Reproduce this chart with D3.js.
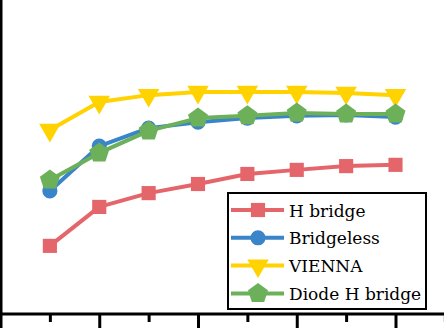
<!DOCTYPE html>
<html>
<head>
<meta charset="utf-8">
<script src="https://cdn.jsdelivr.net/npm/d3@7"></script>
<style>
  html, body { margin: 0; padding: 0; background: #fff; }
  svg { display: block; }
</style>
</head>
<body>
<svg id="chart" width="444" height="328"></svg>
<script>
// ---- data ----
const xValues = [1, 2, 3, 4, 5, 6, 7, 8];
const majorTicks = [0, 2, 4, 6, 8];
const minorTicks = [1, 3, 5, 7, 9];
const seriesNames = ["H bridge", "Bridgeless", "VIENNA", "Diode H bridge"];
const hBridge    = [92.17, 93.41, 93.85, 94.14, 94.46, 94.59, 94.71, 94.75];
const bridgeless = [93.92, 95.35, 95.92, 96.11, 96.24, 96.31, 96.34, 96.27];
const vienna     = [95.86, 96.75, 96.97, 97.07, 97.07, 97.07, 97.04, 96.97];
const diodeH     = [94.27, 95.13, 95.83, 96.24, 96.31, 96.40, 96.37, 96.37];

const colors = ["#e5666a", "#3a85c9", "#ffd200", "#6cb05a"];
const symbolKinds = ["square", "circle", "triangleDown", "pentagon"];
const seriesValues = [hBridge, bridgeless, vienna, diodeH];

const svg = d3.select("#chart");
const W = 444, H = 328;
const plotLeft = 0.5, plotBottom = 314;

const x = d3.scaleLinear().domain([0, 8]).range([plotLeft, 395.5]);
const y = d3.scaleLinear().domain([90, 100]).range([plotBottom, 0]);

function symbolPath(kind) {
  if (kind === "square") return d3.symbol(d3.symbolSquare, 200)();
  if (kind === "circle") return d3.symbol(d3.symbolCircle, 180)();
  if (kind === "triangleDown") return d3.symbol(d3.symbolTriangle, 200)();
  // pentagon
  const r = 10.5;
  const pts = d3.range(5).map(i => {
    const a = -Math.PI / 2 + i * 2 * Math.PI / 5;
    return [r * Math.cos(a), r * Math.sin(a)];
  });
  return "M" + pts.map(p => p.join(",")).join("L") + "Z";
}
function symbolTransform(kind) {
  return kind === "triangleDown" ? " rotate(180)" : "";
}

// ---- series ----
const line = d3.line().x((d, i) => x(xValues[i])).y(d => y(d));
seriesValues.forEach((vals, s) => {
  const g = svg.append("g");
  g.append("path")
    .attr("d", line(vals))
    .attr("fill", "none")
    .attr("stroke", colors[s])
    .attr("stroke-width", 4)
    .attr("stroke-linejoin", "round");
  g.selectAll("path.m").data(vals).enter().append("path")
    .attr("class", "m")
    .attr("transform", (d, i) => `translate(${x(xValues[i])},${y(d)})` + symbolTransform(symbolKinds[s]))
    .attr("d", symbolPath(symbolKinds[s]))
    .attr("fill", colors[s]);
});

// ---- axes ----
const axisMajor = d3.axisBottom(x).tickValues(majorTicks).tickSize(16).tickSizeOuter(0).tickFormat("");
const axisMinor = d3.axisBottom(x).tickValues(minorTicks).tickSize(8).tickSizeOuter(0).tickFormat("");
const gMinor = svg.append("g").attr("transform", `translate(0,${plotBottom})`).call(axisMinor);
const gMajor = svg.append("g").attr("transform", `translate(0,${plotBottom})`).call(axisMajor);
gMinor.select(".domain").remove();
gMajor.select(".domain").attr("d", `M0,0H${W}`).attr("stroke", "#000").attr("stroke-width", 3);
svg.selectAll(".tick line").attr("stroke", "#000").attr("stroke-width", 3);

const gLeft = svg.append("g").attr("transform", `translate(1,0)`)
  .call(d3.axisLeft(y).tickValues([]).tickSizeOuter(0));
gLeft.select(".domain").attr("d", `M0,0V${plotBottom}`).attr("stroke", "#000").attr("stroke-width", 3);

// ---- legend ----
const legend = svg.append("g");
legend.append("rect")
  .attr("x", 228).attr("y", 193).attr("width", 198).attr("height", 116)
  .attr("fill", "#fff").attr("stroke", "#000").attr("stroke-width", 2);
seriesNames.forEach((name, s) => {
  const cy = 210 + s * 27.8;
  legend.append("line")
    .attr("x1", 231).attr("x2", 284).attr("y1", cy).attr("y2", cy)
    .attr("stroke", colors[s]).attr("stroke-width", 4);
  legend.append("path")
    .attr("transform", `translate(258,${cy})` + symbolTransform(symbolKinds[s]))
    .attr("d", symbolPath(symbolKinds[s]))
    .attr("fill", colors[s]);
  legend.append("text")
    .attr("x", 289).attr("y", cy + 6.5)
    .style("font-family", "\"DejaVu Serif\"")
    .style("font-size", "17px")
    .attr("fill", "#000")
    .text(name);
});
</script>
</body>
</html>
